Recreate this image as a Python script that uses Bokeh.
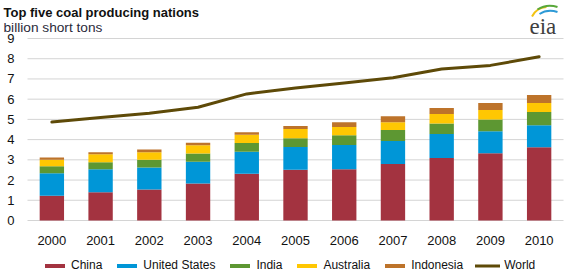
from bokeh.plotting import figure
from bokeh.models import (ColumnDataSource, Range1d, Legend, LegendItem, Label, FixedTicker)
from bokeh.embed import file_html
from bokeh.resources import INLINE

# ---- data ----
years = ["2000", "2001", "2002", "2003", "2004", "2005", "2006", "2007", "2008", "2009", "2010"]
china = [1.23, 1.40, 1.53, 1.83, 2.31, 2.51, 2.54, 2.80, 3.09, 3.32, 3.62]
united_states = [1.11, 1.14, 1.09, 1.08, 1.09, 1.12, 1.19, 1.13, 1.19, 1.09, 1.09]
india = [0.34, 0.34, 0.39, 0.40, 0.43, 0.44, 0.49, 0.54, 0.52, 0.59, 0.65]
australia = [0.33, 0.40, 0.36, 0.41, 0.41, 0.45, 0.40, 0.39, 0.47, 0.46, 0.45]
indonesia = [0.10, 0.09, 0.14, 0.13, 0.13, 0.15, 0.24, 0.30, 0.29, 0.35, 0.39]
world = [4.87, 5.09, 5.30, 5.60, 6.26, 6.55, 6.80, 7.06, 7.49, 7.67, 8.10]
y_ticks = [0, 1, 2, 3, 4, 5, 6, 7, 8, 9]

series = ["China", "United States", "India", "Australia", "Indonesia"]
colors = ["#A33340", "#0096D7", "#5D9732", "#FFC702", "#BD732A"]
world_color = "#5E4A08"

# ---- layout (canvas pixels, origin top-left) ----
W, H = 568, 274
AREA_L, AREA_R, AREA_T, AREA_B = 27, 563, 38, 220
n = len(years)
slot = (AREA_R - AREA_L) / n
ppu = (AREA_B - AREA_T) / y_ticks[-1]
x_start = -0.5 - AREA_L / slot
x_end = n - 0.5 + (W - AREA_R) / slot
y_start = -(H - AREA_B) / ppu
y_end = y_ticks[-1] + AREA_T / ppu

def px_x(px):
    return x_start + px / slot

def px_y(py):
    return y_end - py / ppu

idx = list(range(n))
data = {"x": idx, "World": world}
for name, vals in zip(series, [china, united_states, india, australia, indonesia]):
    data[name] = vals
source = ColumnDataSource(data)

p = figure(frame_width=W, frame_height=H, x_range=Range1d(x_start, x_end),
           y_range=Range1d(y_start, y_end), output_backend="svg", toolbar_location=None,
           title=None, min_border=0, outline_line_color=None)

# grid lines across the plotting area
p.segment(x0=[-0.5] * len(y_ticks), x1=[n - 0.5] * len(y_ticks), y0=y_ticks, y1=y_ticks,
          line_color="#D4D4D4", line_width=1)

bars = p.vbar_stack(series, x="x", width=0.5, color=colors, source=source, line_width=0)
wl = p.line(x="x", y="World", source=source, line_color=world_color, line_width=3,
            line_join="round", line_cap="round")

p.xgrid.grid_line_color = None
p.ygrid.grid_line_color = None
p.xaxis.ticker = FixedTicker(ticks=idx)
p.xaxis.major_label_overrides = {i: y for i, y in zip(idx, years)}
p.xaxis.fixed_location = 0
p.yaxis.ticker = FixedTicker(ticks=y_ticks)
p.yaxis.fixed_location = -0.5
for ax in (p.xaxis, p.yaxis):
    ax.axis_line_color = None
    ax.major_tick_line_color = None
    ax.minor_tick_line_color = None
    ax.major_tick_out = 0
    ax.major_tick_in = 0
    ax.minor_tick_out = 0
    ax.minor_tick_in = 0
    ax.major_label_text_font = "Liberation Sans"
    ax.major_label_text_font_size = "13px"
    ax.major_label_text_color = "#111111"
p.yaxis.major_label_standoff = 13
p.xaxis.major_label_standoff = 15

items = [LegendItem(label=name, renderers=[r]) for name, r in zip(series, bars)]
items.append(LegendItem(label="World", renderers=[wl]))
legend = Legend(items=items, orientation="horizontal", location=(42, 2),
                glyph_width=25, glyph_height=5, label_height=14, label_standoff=4, spacing=12,
                label_text_font="Liberation Sans", label_text_font_size="12px",
                label_text_color="#111111", padding=0, margin=0,
                border_line_color=None, background_fill_alpha=0)
p.add_layout(legend, "center")

p.add_layout(Label(x=3, y=H - 12, x_units="screen", y_units="screen",
                   text="Top five coal producing nations",
                   text_font="Liberation Sans", text_font_style="bold", text_font_size="13px",
                   text_color="#111111", text_baseline="alphabetic"))
p.add_layout(Label(x=3, y=H - 27, x_units="screen", y_units="screen",
                   text="billion short tons",
                   text_font="Liberation Sans", text_font_size="13.7px",
                   text_color="#2A2A3A", text_baseline="alphabetic"))
p.add_layout(Label(x=529, y=H - 26, x_units="screen", y_units="screen", text="eia",
                   text_font="Liberation Serif", text_font_size="23px",
                   text_color="#404040", text_baseline="alphabetic"))
# eia logo swooshes
p.bezier(x0=[px_x(531.5), px_x(537), px_x(539)], y0=[px_y(16), px_y(9), px_y(13.5)],
         x1=[px_x(546), px_x(557), px_x(557)], y1=[px_y(6.5), px_y(6.5), px_y(11.5)],
         cx0=[px_x(534), px_x(543), px_x(545)], cy0=[px_y(11), px_y(5), px_y(9.5)],
         cx1=[px_x(539), px_x(551), px_x(551)], cy1=[px_y(7), px_y(4.5), px_y(9.5)],
         line_color=["#F2C313", "#59A83A", "#2E9AD6"], line_width=2)

open("out.html", "w").write(file_html(p, INLINE))
